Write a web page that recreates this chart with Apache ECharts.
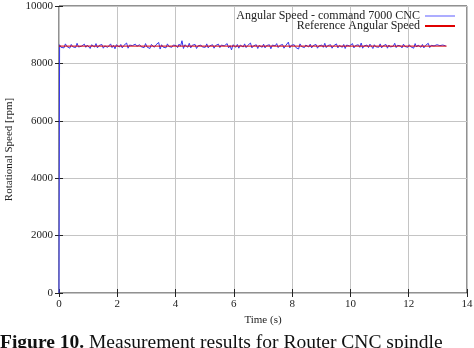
<!DOCTYPE html>
<html>
<head>
<meta charset="utf-8">
<script src="https://cdn.jsdelivr.net/npm/echarts@6/dist/echarts.min.js"></script>
<style>
  html, body { margin: 0; padding: 0; background: #fff; }
  #chart { width: 474px; height: 348px; }
</style>
</head>
<body>
<div id="chart"></div>
<script>
// Spindle speed log: at rest at t = 0, then measured samples every 0.05 s
const startTime = 0;
const startSpeed = 0;
const firstSampleTime = 0.02;
const SAMPLE_DT = 0.05;
const measuredSpeed = [
  8650, 8560, 8620, 8540, 8680, 8590, 8610, 8530, 8660, 8580, 8630, 8550, 8700, 8570, 8620, 8600, 8540, 8670, 8560, 8640,
  8590, 8520, 8650, 8610, 8570, 8690, 8540, 8620, 8580, 8660, 8530, 8610, 8640, 8560, 8600, 8680, 8550, 8630, 8510, 8650,
  8600, 8570, 8660, 8540, 8620, 8590, 8710, 8530, 8640, 8580, 8620, 8560, 8670, 8600, 8540, 8650, 8580, 8610, 8550, 8690,
  8570, 8630, 8520, 8660, 8600, 8560, 8640, 8590, 8730, 8500, 8650, 8570, 8620, 8540, 8680, 8590, 8610, 8560, 8640, 8580,
  8620, 8550, 8670, 8600, 8790, 8520, 8650, 8610, 8560, 8700, 8540, 8630, 8590, 8660, 8520, 8610, 8580, 8640, 8570, 8620,
  8560, 8680, 8540, 8610, 8590, 8650, 8530, 8620, 8600, 8670, 8550, 8640, 8580, 8610, 8560, 8690, 8540, 8620, 8470, 8650,
  8590, 8560, 8660, 8530, 8640, 8600, 8570, 8680, 8550, 8620, 8590, 8710, 8540, 8610, 8580, 8650, 8520, 8630, 8600, 8560,
  8670, 8540, 8620, 8590, 8650, 8510, 8640, 8580, 8610, 8690, 8550, 8620, 8570, 8660, 8530, 8610, 8600, 8740, 8540, 8630,
  8580, 8650, 8560, 8620, 8500, 8680, 8590, 8610, 8550, 8640, 8600, 8570, 8670, 8540, 8620, 8590, 8660, 8530, 8610, 8580,
  8640, 8560, 8700, 8550, 8620, 8590, 8650, 8530, 8610, 8580, 8680, 8540, 8630, 8600, 8560, 8660, 8520, 8640, 8590, 8610,
  8570, 8690, 8540, 8620, 8580, 8650, 8560, 8710, 8530, 8610, 8590, 8640, 8550, 8670, 8600, 8520, 8650, 8580, 8620, 8560,
  8680, 8540, 8610, 8590, 8660, 8530, 8640, 8570, 8620, 8600, 8700, 8550, 8630, 8580, 8610, 8540, 8670, 8590, 8620, 8560,
  8650, 8580, 8610, 8530, 8690, 8570, 8640, 8600, 8560, 8660, 8540, 8620, 8590, 8700, 8550, 8630, 8580, 8610, 8560, 8650,
  8590, 8620, 8570, 8640, 8600, 8610
];
// Reference (set-point) speed over the run
const referenceTimes = [0, 13.3];
const referenceSpeed = [8600, 8600];

const xTicks = [0, 2, 4, 6, 8, 10, 12, 14];
const yTicks = [0, 2000, 4000, 6000, 8000, 10000];

const seriesNames = ['Angular Speed - command 7000 CNC', 'Reference Angular Speed'];
const xTitle = 'Time (s)';
const yTitle = 'Rotational Speed [rpm]';
const captionBold = 'Figure 10.';
const captionText = ' Measurement results for Router CNC spindle';

const measuredPoints = [[startTime, startSpeed]].concat(
  measuredSpeed.map((v, i) => [+(firstSampleTime + i * SAMPLE_DT).toFixed(3), v])
);
const referencePoints = referenceTimes.map((t, i) => [t, referenceSpeed[i]]);

const FONT = '"Liberation Serif", "DejaVu Serif", serif';
const INK = '#222';

const chart = echarts.init(document.getElementById('chart'), null, { renderer: 'canvas' });

const xBase = {
  type: 'value', min: xTicks[0], max: xTicks[xTicks.length - 1], interval: 2
};
const yBase = {
  type: 'value', min: yTicks[0], max: yTicks[yTicks.length - 1], interval: 2000
};
const plain = v => String(v);

chart.setOption({
  animation: false,
  backgroundColor: '#fff',
  grid: {
    left: 59, right: 7, top: 6, bottom: 55,
    containLabel: false, outerBoundsMode: 'none',
    show: true, borderColor: INK, borderWidth: 1, backgroundColor: 'transparent'
  },
  xAxis: [
    Object.assign({}, xBase, {
      position: 'bottom',
      name: xTitle, nameLocation: 'middle', nameGap: 22,
      nameTextStyle: { fontFamily: FONT, fontSize: 11, color: INK },
      axisLine: { show: false },
      axisTick: { show: true, inside: true, length: 4, lineStyle: { color: INK } },
      axisLabel: { fontFamily: FONT, fontSize: 11, color: INK, margin: 6, formatter: plain },
      splitLine: { show: true, lineStyle: { color: '#c4c4c4', width: 1 } }
    }),
    Object.assign({}, xBase, {
      position: 'top',
      axisLine: { show: false },
      axisTick: { show: true, inside: true, length: 4, lineStyle: { color: INK } },
      axisLabel: { show: false },
      splitLine: { show: false }
    })
  ],
  yAxis: [
    Object.assign({}, yBase, {
      position: 'left',
      name: yTitle, nameLocation: 'middle', nameGap: 41, nameRotate: 90,
      nameTextStyle: { fontFamily: FONT, fontSize: 11, color: INK },
      axisLine: { show: false },
      axisTick: { show: true, inside: true, length: 4, lineStyle: { color: INK } },
      axisLabel: { fontFamily: FONT, fontSize: 11, color: INK, margin: 6, formatter: plain },
      splitLine: { show: true, lineStyle: { color: '#c4c4c4', width: 1 } }
    }),
    Object.assign({}, yBase, {
      position: 'right',
      axisLine: { show: false },
      axisTick: { show: true, inside: true, length: 4, lineStyle: { color: INK } },
      axisLabel: { show: false },
      splitLine: { show: false }
    })
  ],
  legend: [
    {
      data: [seriesNames[0]],
      right: 19, top: 10, padding: 0, align: 'right',
      icon: 'rect', itemWidth: 30, itemHeight: 1,
      textStyle: { fontFamily: FONT, fontSize: 12, color: INK }
    },
    {
      data: [seriesNames[1]],
      right: 19, top: 20, padding: 0, align: 'right',
      icon: 'rect', itemWidth: 30, itemHeight: 2,
      textStyle: { fontFamily: FONT, fontSize: 12, color: INK }
    }
  ],
  series: [
    {
      name: seriesNames[0], type: 'line', data: measuredPoints,
      xAxisIndex: 0, yAxisIndex: 0,
      showSymbol: false, symbol: 'none',
      lineStyle: { color: '#3636ee', width: 1 },
      itemStyle: { color: '#5a5aff' },
      z: 2
    },
    {
      name: seriesNames[1], type: 'line', data: referencePoints,
      xAxisIndex: 0, yAxisIndex: 0,
      showSymbol: false, symbol: 'none',
      lineStyle: { color: '#dd0000', width: 1.3, opacity: 0.8 },
      itemStyle: { color: '#e00000' },
      z: 3
    }
  ],
  graphic: [
    {
      type: 'text', left: 0, top: 333,
      style: {
        text: '{b|' + captionBold + '}' + captionText,
        fontFamily: FONT, fontSize: 19.5, fill: '#111',
        rich: { b: { fontFamily: FONT, fontSize: 19.5, fontWeight: 'bold', fill: '#111' } }
      }
    }
  ]
});
</script>
</body>
</html>
